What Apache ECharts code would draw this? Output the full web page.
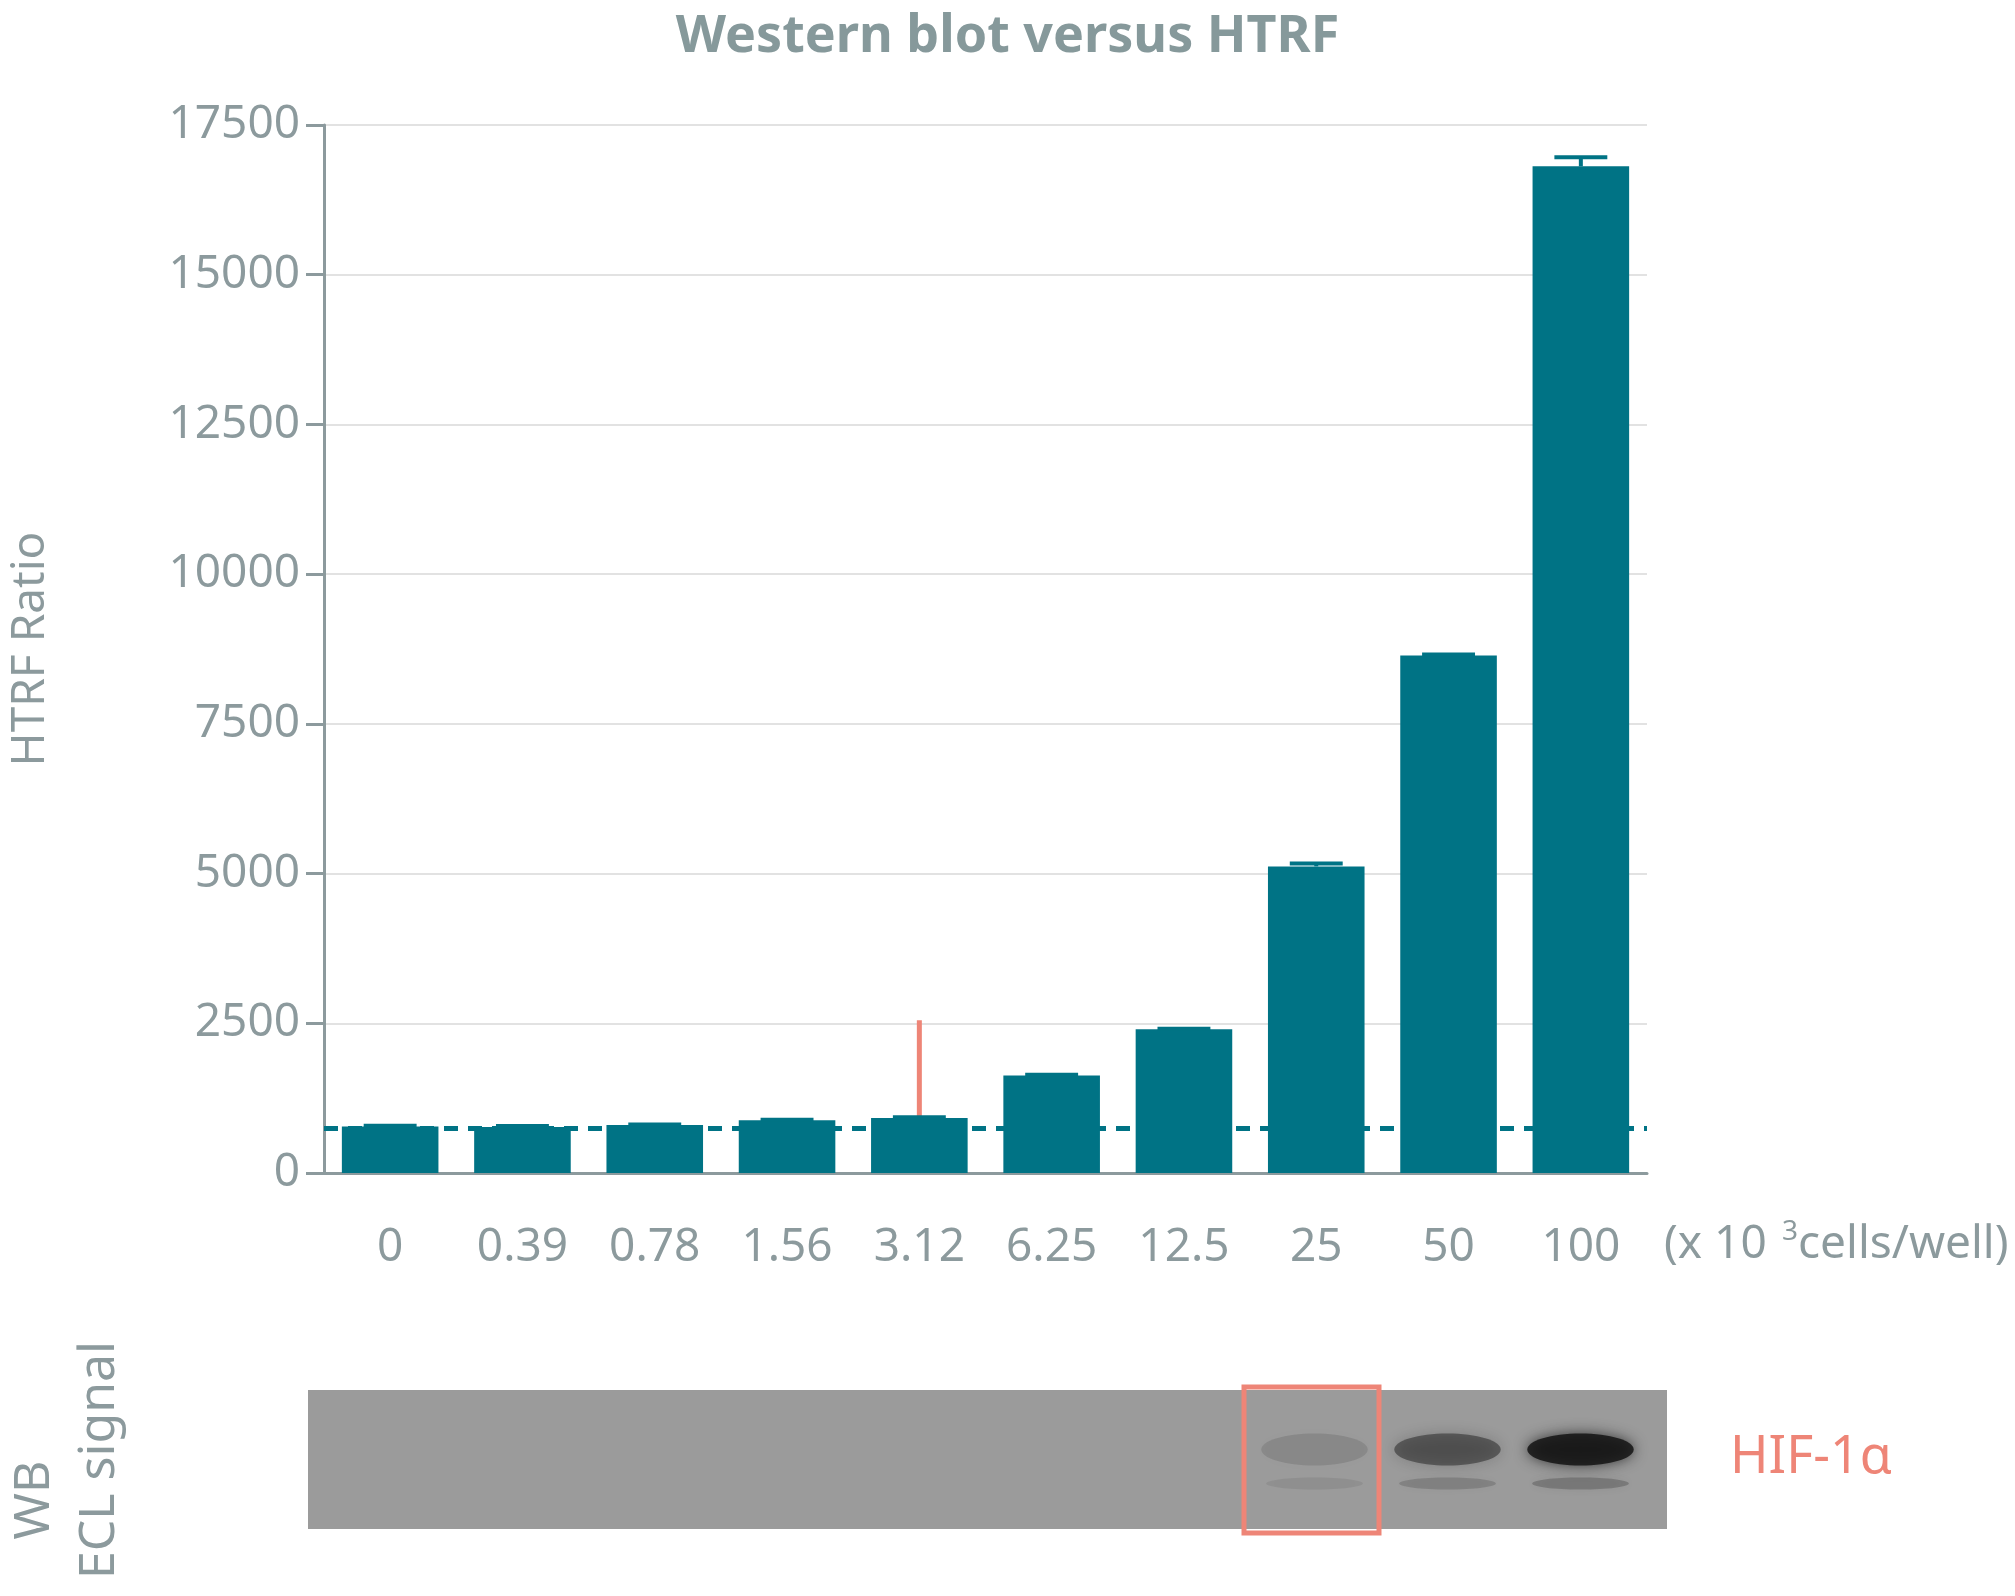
<!DOCTYPE html>
<html>
<head>
<meta charset="utf-8">
<script src="https://cdn.jsdelivr.net/npm/echarts@6/dist/echarts.min.js"></script>
<style>html,body{margin:0;padding:0;background:#fff}#main{width:2015px;height:1596px}</style>
</head>
<body>
<div id="main"></div>
<script>
var categories = ['0', '0.39', '0.78', '1.56', '3.12', '6.25', '12.5', '25', '50', '100'];
var htrfRatio = [775, 770, 800, 880, 920, 1630, 2400, 5120, 8640, 16810];
var errorTop = [790, 785, 810, 890, 930, 1640, 2410, 5170, 8660, 16960];
var baseline = 750;
var yTicks = [0, 2500, 5000, 7500, 10000, 12500, 15000, 17500];
// WB band darkness per lane (main band, lower band)
var bandMain = [0, 0, 0, 0, 0, 0, 0, 0.12, 0.45, 0.85];
var bandLow = [0, 0, 0, 0, 0, 0, 0, 0.08, 0.18, 0.25];

var teal = '#007385';
var grey = '#8c9a9d';
var salmon = '#ee8577';
var font = 'Noto Sans';

var myChart = echarts.init(document.getElementById('main'));

var option = {
    backgroundColor: '#fff',
    animation: false,
    title: {
        text: 'Western blot versus HTRF',
        left: 'center',
        top: 6,
        textStyle: {color: '#86999b', fontSize: 52, fontWeight: 'bold', fontFamily: font}
    },
    grid: [
        {left: 317, right: 368, top: 125, bottom: 423},
        {left: 317, right: 368, top: 1390, bottom: 67}
    ],
    xAxis: [{
        type: 'category',
        data: categories,
        axisLine: {lineStyle: {color: grey, width: 3}},
        axisTick: {alignWithLabel: true, length: 18, lineStyle: {color: grey, width: 3}},
        axisLabel: {color: grey, fontSize: 46, fontFamily: font, margin: 52}
    }, {
        type: 'category', gridIndex: 1, data: categories, show: false
    }],
    yAxis: [{
        type: 'value',
        min: 0, max: 17500, interval: 2500,
        name: 'HTRF Ratio',
        nameLocation: 'middle',
        nameGap: 270,
        nameTextStyle: {color: grey, fontSize: 46, fontFamily: font},
        axisLine: {show: true, lineStyle: {color: grey, width: 3}},
        axisTick: {show: true, length: 18, lineStyle: {color: grey, width: 3}},
        axisLabel: {color: grey, fontSize: 46, fontFamily: font, margin: 24,
            formatter: function (v) { return yTicks.indexOf(v) >= 0 ? String(v) : ''; }},
        splitLine: {lineStyle: {color: '#e2e2e2', width: 2}}
    }, {
        type: 'value', gridIndex: 1, min: 0, max: 1, show: false
    }],
    graphic: [
        {type: 'rect', z: 0, shape: {x: 308, y: 1390, width: 1359, height: 139}, style: {fill: '#9b9b9b'}},
        {type: 'rect', z: 10, shape: {x: 1244, y: 1387, width: 135, height: 146},
            style: {fill: 'none', stroke: salmon, lineWidth: 5}},
        {type: 'text', left: 1664, top: 1222, style: {text: '(x 10', fill: grey, fontSize: 46, fontFamily: font}},
        {type: 'text', left: 1782, top: 1218, style: {text: '3', fill: grey, fontSize: 28, fontFamily: font}},
        {type: 'text', left: 1798, top: 1222, style: {text: 'cells/well)', fill: grey, fontSize: 46, fontFamily: font}},
        {type: 'text', left: 1730, top: 1432, style: {text: 'HIF-1α', fill: salmon, fontSize: 52, fontFamily: font}},
        {type: 'text', x: 10, y: 1500, rotation: Math.PI / 2,
            style: {text: 'WB', fill: grey, fontSize: 50, fontFamily: font, align: 'center', verticalAlign: 'top'}},
        {type: 'text', x: 75, y: 1460, rotation: Math.PI / 2,
            style: {text: 'ECL signal', fill: grey, fontSize: 50, fontFamily: font, align: 'center', verticalAlign: 'top'}}
    ],
    series: [{
        name: 'HTRF',
        type: 'bar',
        data: htrfRatio,
        barWidth: '73%',
        itemStyle: {color: teal},
        markLine: {
            silent: true, symbol: 'none', label: {show: false},
            lineStyle: {color: teal, width: 5, type: [14, 10]},
            data: [{yAxis: baseline}]
        },
        markArea: {
            silent: true,
            itemStyle: {color: 'rgba(0,0,0,0)', borderColor: salmon, borderWidth: 5},
            data: [[{xAxis: '3.12', yAxis: 0}, {xAxis: '3.12', yAxis: 2550}]]
        }
    }, {
        name: 'error',
        type: 'custom',
        z: 3,
        data: errorTop.map(function (v, i) { return [i, htrfRatio[i], v]; }),
        renderItem: function (params, api) {
            var lo = api.coord([api.value(0), api.value(1)]);
            var hi = api.coord([api.value(0), api.value(2)]);
            var w = api.size([1, 0])[0] * 0.2;
            return {type: 'group', children: [
                {type: 'line', shape: {x1: lo[0], y1: lo[1], x2: hi[0], y2: hi[1]}, style: {stroke: teal, lineWidth: 4}},
                {type: 'line', shape: {x1: hi[0] - w, y1: hi[1], x2: hi[0] + w, y2: hi[1]}, style: {stroke: teal, lineWidth: 4}}
            ]};
        }
    }, {
        name: 'WB',
        type: 'custom',
        xAxisIndex: 1, yAxisIndex: 1,
        z: 1,
        data: bandMain.map(function (v, i) { return [i, v, bandLow[i]]; }),
        renderItem: function (params, api) {
            var c = api.coord([api.value(0), 0.5]);
            var w = api.size([1, 0])[0] * 0.8;
            var a1 = api.value(1), a2 = api.value(2);
            return {type: 'group', children: [
                {type: 'ellipse', shape: {cx: c[0], cy: c[1] - 10, rx: w / 2, ry: 16},
                    style: {fill: 'rgba(20,20,20,' + a1 + ')', shadowBlur: 14, shadowColor: 'rgba(20,20,20,' + a1 + ')'}},
                {type: 'ellipse', shape: {cx: c[0], cy: c[1] + 24, rx: w / 2.2, ry: 6},
                    style: {fill: 'rgba(30,30,30,' + a2 + ')', shadowBlur: 8, shadowColor: 'rgba(30,30,30,' + a2 + ')'}}
            ]};
        }
    }]
};

myChart.setOption(option);
</script>
</body>
</html>
